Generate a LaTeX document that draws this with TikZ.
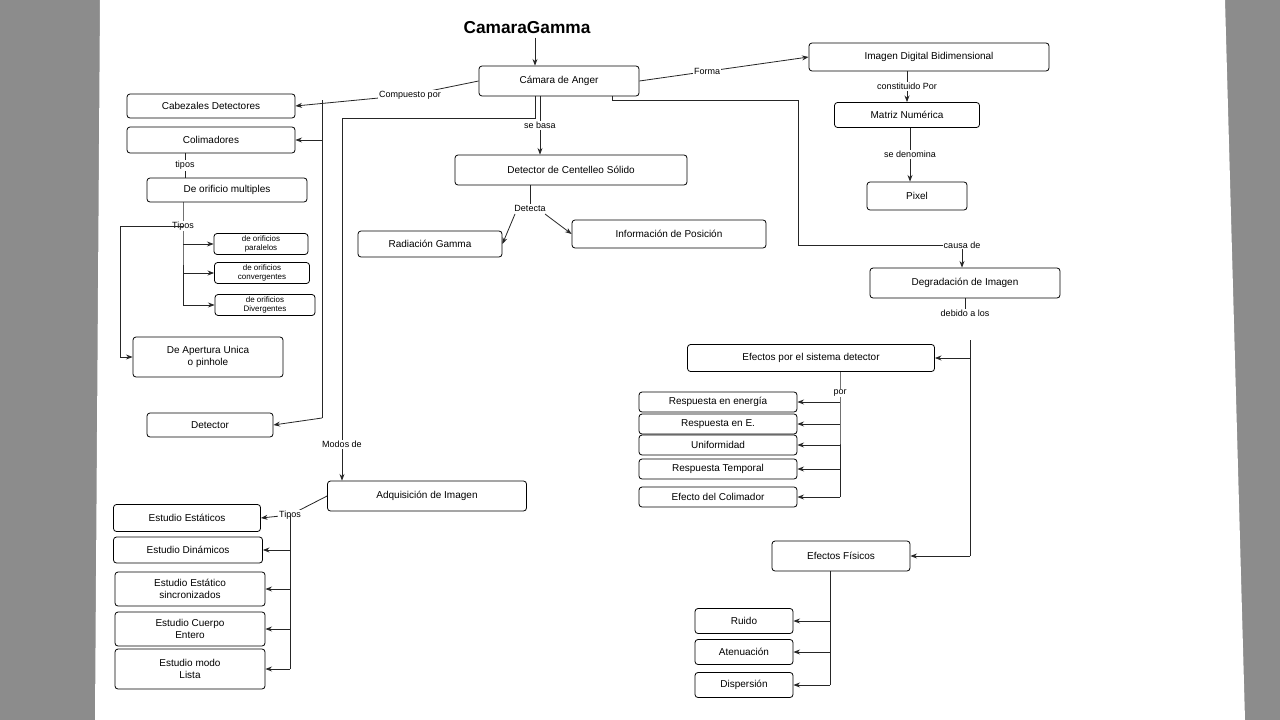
\documentclass[tikz,border=0pt]{standalone}
\usepackage{fontspec}
\setmainfont{Liberation Sans}
\setsansfont{Liberation Sans}
\usetikzlibrary{arrows.meta}
\tikzset{
  every picture/.style={font={\sffamily\normalsize}, >=Stealth}}
\begin{document}
\begin{tikzpicture}[x=1pt, y=-1pt,
    box/.style={draw, rounded corners=3pt, thick, align=center,
      inner sep=2pt, font=\sffamily\normalsize},
    tag/.style={font=\sffamily\small, fill=white, inner sep=1pt},
    link/.style={thick, draw=black!85}]

  \useasboundingbox (0,0) rectangle (1280,720);
  \fill[black!45] (0,0) rectangle (1280,720);
  \fill[white] (100,0) -- (1225,0) -- (1245,720) -- (95,720) -- cycle;

  % title and main node
  \node[font=\sffamily\LARGE\bfseries] (title) at (527,28) {CamaraGamma};
  \node[box, minimum width=160pt, minimum height=30pt] (anger) at (559,81) {Cámara de Anger};

  % right branch: imagen
  \node[box, minimum width=240pt, minimum height=28pt] (imagen) at (929,57) {Imagen Digital Bidimensional};
  \node[box, minimum width=145pt, minimum height=25pt] (matriz) at (907,115) {Matriz Numérica};
  \node[box, minimum width=100pt, minimum height=28pt] (pixel) at (917,196) {Pixel};

  % left branch: componentes
  \node[box, minimum width=168pt, minimum height=24pt] (cabezal) at (211,106) {Cabezales Detectores};
  \node[box, minimum width=168pt, minimum height=26pt] (colim) at (211,140) {Colimadores};
  \node[box, minimum width=160pt, minimum height=24pt] (multi) at (227,190) {De orificio multiples};
  \node[box, minimum width=94pt, font=\sffamily\footnotesize] (paral) at (261,244) {de orificios\\paralelos};
  \node[box, minimum width=95pt, font=\sffamily\footnotesize] (conv) at (262,273) {de orificios\\convergentes};
  \node[box, minimum width=100pt, font=\sffamily\footnotesize] (diver) at (265,305) {de orificios\\Divergentes};
  \node[box, minimum width=150pt, minimum height=40pt] (pinhole) at (208,357) {De Apertura Unica\\o pinhole};
  \node[box, minimum width=126pt, minimum height=24pt] (detec) at (210,425) {Detector};

  % centro
  \node[box, minimum width=232pt, minimum height=30pt] (cent) at (571,170) {Detector de Centelleo Sólido};
  \node[box, minimum width=144pt, minimum height=26pt] (radia) at (430,244) {Radiación Gamma};
  \node[box, minimum width=194pt, minimum height=28pt] (posic) at (669,234) {Información de Posición};
  \node[box, minimum width=199pt, minimum height=30pt] (adqui) at (427,496) {Adquisición de Imagen};

  % degradacion
  \node[box, minimum width=190pt, minimum height=30pt] (degra) at (965,283) {Degradación de Imagen};
  \node[box, minimum width=247pt, minimum height=27pt] (sist) at (811,358) {Efectos por el sistema detector};
  \node[box, minimum width=138pt, minimum height=30pt] (fisic) at (841,556) {Efectos Físicos};

  \foreach \n/\y/\t in {r1/402/Respuesta en energía, r2/424/Respuesta en E.,
      r3/445/Uniformidad, r4/469/Respuesta Temporal, r5/497/Efecto del Colimador}
    \node[box, minimum width=158pt, minimum height=20pt] (\n) at (718,\y) {\t};

  \foreach \n/\y/\t in {f1/621/Ruido, f2/652/Atenuación, f3/685/Dispersión}
    \node[box, minimum width=98pt, minimum height=25pt] (\n) at (744,\y) {\t};

  \node[box, minimum width=147pt, minimum height=27pt] (e1) at (187,518) {Estudio Estáticos};
  \node[box, minimum width=149pt, minimum height=26pt] (e2) at (188,550) {Estudio Dinámicos};
  \node[box, minimum width=150pt, minimum height=34pt] (e3) at (190,589) {Estudio Estático\\sincronizados};
  \node[box, minimum width=150pt, minimum height=34pt] (e4) at (190,629) {Estudio Cuerpo\\Entero};
  \node[box, minimum width=150pt, minimum height=40pt] (e5) at (190,669) {Estudio modo\\Lista};

  % coordinates for the line paths
  \coordinate (cL) at (322,100);
  \coordinate (tL) at (183,226);
  \coordinate (sL) at (840,393);
  \coordinate (fL) at (830,571);
  \coordinate (aL) at (290,515);
  \coordinate (dL) at (970,340);

  % connectors
  \draw[link,->] (title.south -| 535,0) -- (anger.north -| 535,0);
  \draw[link,->] (anger.east) -- node[tag, pos=0.4]{Forma} (imagen.west);
  \draw[link,->] (imagen.south -| matriz) -- node[tag]{constituido Por} (matriz);
  \draw[link,->] (matriz.south -| 910,0) -- node[tag]{se denomina} (pixel.north -| 910,0);

  \draw[link,->] (anger.west) -- (410,95) node[tag]{Compuesto por} -- (cabezal.east);
  \draw[link] (cL) -- (322,418);
  \draw[link,->] (colim.east -| cL) -- (colim.east);
  \draw[link,->] (322,418) -- (detec.east);
  \draw[link] (colim.south -| 185,0) -- node[tag]{tipos} (multi.north -| 185,0);
  \draw[link] (multi.south -| tL) -- (tL) node[tag]{Tipos} -- (183,305);
  \foreach \n in {paral, conv, diver}
    \draw[link,->] (\n.west -| tL) -- (\n.west);
  \draw[link] (tL) -- (120,226) -- (120,357);
  \draw[link,->] (120,357) -- (pinhole.west);

  \draw[link,->] (anger.south -| 540,0) -- node[tag]{se basa} (cent.north -| 540,0);
  \draw[link] (cent.south -| 530,0) -- (530,208) node[tag]{Detecta};
  \draw[link,->] (515,214) -- (radia.east);
  \draw[link,->] (545,214) -- (posic.west);

  \draw[link] (anger.south -| 535,0) -- (535,118) -- (342,118);
  \draw[link,->] (342,118) -- node[tag, pos=0.9]{Modos de} (adqui.north -| 342,0);

  \draw[link] (anger.south -| 612,0) -- (612,100) -- (798,100) -- (798,245) -- (962,245);
  \draw[link,->] (962,245) node[tag]{causa de} -- (degra.north -| 962,0);

  \draw[link] (degra.south) -- (965,313) node[tag]{debido a los};
  \draw[link] (dL) -- (fisic.east -| dL);
  \draw[link,->] (sist.east -| dL) -- (sist.east);
  \draw[link,->] (fisic.east -| dL) -- (fisic.east);

  \draw[link] (sist.south -| sL) -- (sL) node[tag]{por} -- (r5.east -| sL);
  \foreach \n in {r1, r2, r3, r4, r5}
    \draw[link,->] (\n.east -| sL) -- (\n.east);

  \draw[link] (fisic.south -| fL) -- (f3.east -| fL);
  \foreach \n in {f1, f2, f3}
    \draw[link,->] (\n.east -| fL) -- (\n.east);

  \draw[link,->] (adqui.west) -- (aL) node[tag]{Tipos} -- (e1.east);
  \draw[link] (aL) -- (e5.east -| aL);
  \foreach \n in {e2, e3, e4, e5}
    \draw[link,->] (\n.east -| aL) -- (\n.east);
\end{tikzpicture}
\end{document}
